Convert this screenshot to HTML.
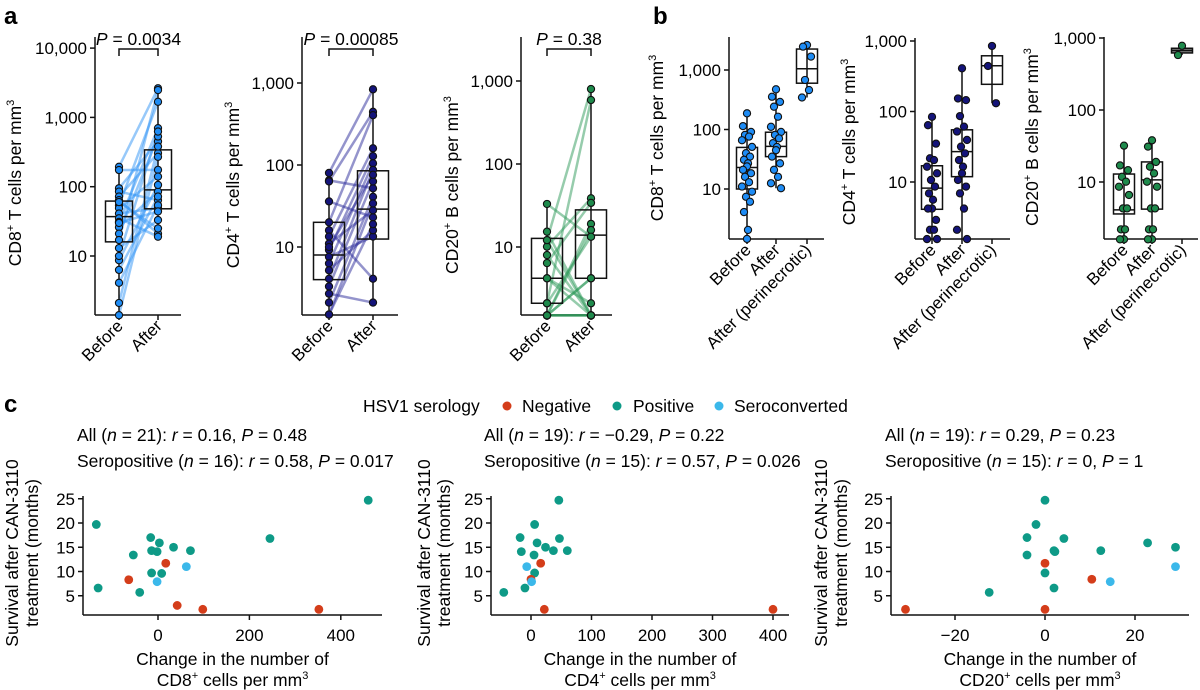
<!DOCTYPE html>
<html><head><meta charset="utf-8">
<style>
html,body{margin:0;padding:0;background:#fff;}
svg{display:block;font-family:"Liberation Sans",Arial,sans-serif;}
</style></head>
<body>
<svg id="fig" width="1200" height="690" viewBox="0 0 1200 690" xmlns="http://www.w3.org/2000/svg">
<text x="4" y="24" font-size="24" font-weight="bold">a</text>
<text x="653" y="24" font-size="24" font-weight="bold">b</text>
<text x="4" y="412" font-size="24" font-weight="bold">c</text>
<g id="legend">
<text x="363" y="412" font-size="17.5">HSV1 serology</text>
<circle cx="507" cy="406" r="4.5" fill="#d43d1a"/>
<text x="522" y="412" font-size="17.5">Negative</text>
<circle cx="617" cy="406" r="4.5" fill="#0e9a87"/>
<text x="633" y="412" font-size="17.5">Positive</text>
<circle cx="719" cy="406" r="4.5" fill="#3bb8ea"/>
<text x="734" y="412" font-size="17.5">Seroconverted</text>
</g>
</svg>
<script>
// ---------- Panel a data (paired before/after) ----------
const a1Before = [194,174,95,85,72,64,54,49,41,35,31,26,21,17,13,8.7,6.3,4.1,2.1,1.4,60,30,10];
const a1After  = [2630,175,450,64,305,21,1680,140,49,19,700,85,530,2480,33,106,72,54,380,270,25,44,625];
const a2Before = [80,65,63,36,20,16,13.4,11,9.2,7.6,6.3,5.2,4.1,3.3,2.7,2.1,1.5,1.5,10];
const a2After  = [837,52,445,23,405,4.1,160,28,128,13.4,105,16,87,63,2.1,41,34,19,76];
const a3Before = [33,15.3,12.1,10.1,8,6.4,4.2,2.1,1.5,1.5,1.5,1.5,4.2,1.5,12.1,2.1,1.5,1.5];
const a3After  = [13.3,1.5,800,38.6,1.5,34,1.5,590,19,16,1.5,4.2,2.1,1.5,1.5,13.3,1.5,4.2];
// box stats [q1, median, q3]
const a1BoxBefore = [16,37,62];
const a1BoxAfter  = [48,90,340];
const a2BoxBefore = [4,8,20];
const a2BoxAfter  = [12.5,29,85];
const a3BoxBefore = [2.1,4.2,12.7];
const a3BoxAfter  = [4.2,13.9,28];
const aPvalues = ["0.0034","0.00085","0.38"];
const aTickValues = [10,100,1000,10000];
const aTickLabels = ["10","100","1,000","10,000"];
const aCategories = ["Before","After"];

// ---------- Panel b data ----------
const b1Before = [187,114,91,81,76,66,51,40,35,31,27,24,21,18.4,16,13,11,9,7.4,6.1,4.1,2.05,1.45];
const b1After  = [474,355,291,242,164,111,91,81,71,59,51,45,35,27,21,16,12.5,10.3];
const b1Peri   = [2630,2470,1680,680,460,345];
const b2Before = [84,64,35,21.7,20.5,16.5,13.3,10.7,8.6,6.9,5.6,4.2,4.2,2.9,2.1,2.1,1.55,1.55];
const b2After  = [410,153,145,86,61,52,39.5,31.7,25.5,20.5,16.5,13.3,10.7,8.6,6.9,4.2,2.1,1.55];
const b2Peri   = [850,442,131];
const b3Before = [32,17,14.6,11.8,10.1,8.6,6.6,4.3,4.3,2.2,2.2,1.6,1.6];
const b3After  = [38,31,19,16.3,13.2,10.1,8.6,4.3,4.3,2.2,2.2,1.6,1.6];
const b3Peri   = [780,580];
const b1Boxes = [[10,23,50],[35,52,90],[600,1050,2250]];
const b2Boxes = [[4.1,8.2,17],[11.9,27,55],[243,445,617]];
const b3Boxes = [[3.6,4.1,12.9],[4.2,10.7,19],[620,670,720]];
const bCategories = ["Before","After","After (perinecrotic)"];

// ---------- Panel c data ----------
const c1X = [-135,-131,-54,-40,-16,-14,-14,-2,3,8,34,71,245,460,-64,17,42,98,352,-2,62];
const c1Y = [19.7,6.6,13.4,5.7,17.0,14.3,9.7,14.1,15.9,9.6,15.0,14.3,16.8,24.7,8.3,11.7,3.0,2.2,2.2,7.9,11.0];
const c1G = ["P","P","P","P","P","P","P","P","P","P","P","P","P","P","N","N","N","N","N","S","S"];
const c2X = [-45,-18,-16,-10,5,6,6,10,24,37,46,47,60,0,16,22,400,-7,1];
const c2Y = [5.7,17.0,14.1,6.6,13.4,19.7,9.7,15.9,15.0,14.3,24.7,16.8,14.3,8.4,11.7,2.2,2.2,11.0,7.9];
const c2G = ["P","P","P","P","P","P","P","P","P","P","P","P","P","N","N","N","N","S","S"];
const c3X = [-12.4,-4,-4,-2,0,0,2,2.2,2,4.2,12.4,22.8,29,-31,0,0,10.4,14.5,29];
const c3Y = [5.7,17.0,13.4,19.7,24.7,9.7,14.3,14.1,6.6,16.8,14.3,15.9,15.0,2.2,11.7,2.2,8.4,7.9,11.0];
const c3G = ["P","P","P","P","P","P","P","P","P","P","P","P","P","N","N","N","N","S","S"];
const cYTicks = [5,10,15,20,25];
const c1XTicks = [0,200,400];
const c2XTicks = [0,100,200,300,400];
const c3XTicks = [-20,0,20];
const c1Stats = ["All (<tspan font-style='italic'>n</tspan> = 21): <tspan font-style='italic'>r</tspan> = 0.16, <tspan font-style='italic'>P</tspan> = 0.48","Seropositive (<tspan font-style='italic'>n</tspan> = 16): <tspan font-style='italic'>r</tspan> = 0.58, <tspan font-style='italic'>P</tspan> = 0.017"];
const c2Stats = ["All (<tspan font-style='italic'>n</tspan> = 19): <tspan font-style='italic'>r</tspan> = \u22120.29, <tspan font-style='italic'>P</tspan> = 0.22","Seropositive (<tspan font-style='italic'>n</tspan> = 15): <tspan font-style='italic'>r</tspan> = 0.57, <tspan font-style='italic'>P</tspan> = 0.026"];
const c3Stats = ["All (<tspan font-style='italic'>n</tspan> = 19): <tspan font-style='italic'>r</tspan> = 0.29, <tspan font-style='italic'>P</tspan> = 0.23","Seropositive (<tspan font-style='italic'>n</tspan> = 15): <tspan font-style='italic'>r</tspan> = 0, <tspan font-style='italic'>P</tspan> = 1"];

const svg = document.getElementById('fig');
const NS = 'http://www.w3.org/2000/svg';
const FT = '17';
const FL = '17.5';
function mk(tag, attrs, parent){
  const e = document.createElementNS(NS, tag);
  for (const k in attrs) e.setAttribute(k, attrs[k]);
  (parent||svg).appendChild(e);
  return e;
}
const SUP = (s)=>"<tspan dy='-7' font-size='11'>"+s+"</tspan><tspan dy='7'>";

function yTitle(g, x, y, html){
  const t = mk('text', {transform:'translate('+x+','+y+') rotate(-90)', 'text-anchor':'middle', 'font-size':FL}, g);
  
  
  t.innerHTML = html;
  return t;
}

function logPanel(cfg){
  const g = mk('g', {});
  
  
  const Y = v => cfg.y10 - (Math.log10(v)-1)*cfg.dec;
  const ya = mk('line',{x1:cfg.ax,y1:cfg.yTop,x2:cfg.ax,y2:cfg.yBot,stroke:'#111','stroke-width':1.5},g);
  
  
  const xa = mk('line',{x1:cfg.ax,y1:cfg.yBot,x2:cfg.xEnd,y2:cfg.yBot,stroke:'#111','stroke-width':1.5},g);
  
  
  cfg.ticks.forEach((v,i)=>{
    const y = Y(v);
    if (y < cfg.yTop-2) return;
    const tl = mk('line',{x1:cfg.ax-5,y1:y,x2:cfg.ax,y2:y,stroke:'#111','stroke-width':1.5},g);
    
    
    const tt = mk('text',{x:cfg.ax-8,y:y+6,'text-anchor':'end','font-size':FT},g);
    
    
    tt.textContent = cfg.tickLabels[i];
  });
  cfg.cats.forEach((c,i)=>{
    const x = cfg.cx[i];
    const tl = mk('line',{x1:x,y1:cfg.yBot,x2:x,y2:cfg.yBot+5,stroke:'#111','stroke-width':1.5},g);
    
    
    const lx = x+5, ly = cfg.yBot+12;
    const tt = mk('text',{x:lx,y:ly,'text-anchor':'end','font-size':FT,transform:'rotate(-45 '+lx+' '+ly+')'},g);
    
    
    tt.textContent = c;
  });
  yTitle(g, cfg.lx, cfg.ly, cfg.title);
  if (cfg.paired){
    const [b,a] = cfg.series;
    for (let i=0;i<Math.min(b.length,a.length);i++){
      const l = mk('line',{x1:cfg.cx[0],y1:Y(b[i]),x2:cfg.cx[1],y2:Y(a[i]),stroke:cfg.lineColor,'stroke-width':2.5,'stroke-opacity':0.5},g);
      
      
    }
  }
  cfg.series.forEach((vals,i)=>{
    const x = cfg.cx[i], [q1,md,q3] = cfg.boxes[i];
    const lo = Math.min(...vals), hi = Math.max(...vals);
    const w = mk('line',{x1:x,y1:Y(hi),x2:x,y2:Y(lo),stroke:'#111','stroke-width':1.5},g);
    
    
    const bx = mk('rect',{x:x-cfg.bw/2,y:Y(q3),width:cfg.bw,height:Y(q1)-Y(q3),fill:(cfg.boxFill&&cfg.boxFill[i])||'none',stroke:'#111','stroke-width':1.5},g);
    
    
    const m = mk('line',{x1:x-cfg.bw/2,y1:Y(md),x2:x+cfg.bw/2,y2:Y(md),stroke:'#111','stroke-width':1.5},g);
    
    
  });
  const jit = [0,-4,4,-2,2,-5,5,-1,3,-3,1];
  cfg.series.forEach((vals,i)=>{
    vals.forEach((v,j)=>{
      const dx = cfg.jitter ? jit[j%jit.length]*cfg.jitter : 0;
      const p = mk('circle',{cx:cfg.cx[i]+dx,cy:Y(v),r:3.6,fill:cfg.color,stroke:'#111','stroke-width':1.1},g);
      
      
    });
  });
  if (cfg.p){
    const c = (cfg.cx[0]+cfg.cx[1])/2;
    const br = mk('path',{d:'M'+cfg.cx[0]+' 56 V49 H'+cfg.cx[1]+' V56',fill:'none',stroke:'#111','stroke-width':1.5},g);
    
    
    const pt = mk('text',{x:c,y:45,'text-anchor':'middle','font-size':FL},g);
    
    
    pt.innerHTML = "<tspan font-style='italic'>P</tspan> = "+cfg.p;
  }
}

const aLbl = (m,c) => "<tspan>"+m+"</tspan>"+SUP('+')+" "+c+" cells per mm"+"</tspan>"+"<tspan dy='-7' font-size='11'>3</tspan>";
logPanel({name:'panel-a-cd8',ax:95,xEnd:181,yTop:37,yBot:315,y10:256,dec:69.3,ticks:aTickValues,tickLabels:aTickLabels,cats:aCategories,cx:[119,158],bw:27,lx:21,ly:183,title:aLbl('CD8','T'),series:[a1Before,a1After],boxes:[a1BoxBefore,a1BoxAfter],paired:true,color:'#1e8cf5',lineColor:'#2f94f5',p:aPvalues[0]});
logPanel({name:'panel-a-cd4',ax:302,xEnd:398,yTop:37,yBot:315,y10:247,dec:82,ticks:aTickValues,tickLabels:aTickLabels,cats:aCategories,cx:[329,373],bw:31,lx:239,ly:185,title:aLbl('CD4','T'),series:[a2Before,a2After],boxes:[a2BoxBefore,a2BoxAfter],paired:true,color:'#14147a',lineColor:'#2a2a9a',p:aPvalues[1]});
logPanel({name:'panel-a-cd20',ax:521,xEnd:612,yTop:37,yBot:315,y10:247,dec:83,ticks:aTickValues,tickLabels:aTickLabels,cats:aCategories,cx:[547,591],bw:31,lx:458,ly:185,title:aLbl('CD20','B'),series:[a3Before,a3After],boxes:[a3BoxBefore,a3BoxAfter],paired:true,color:'#1e8a4c',lineColor:'#2e9a5a',p:aPvalues[2]});

logPanel({name:'panel-b-cd8',ax:729,xEnd:824,yTop:37,yBot:239,y10:189,dec:59.5,ticks:[10,100,1000],tickLabels:["10","100","1,000"],cats:bCategories,cx:[747,776,807],bw:21,lx:663,ly:138,title:aLbl('CD8','T'),series:[b1Before,b1After,b1Peri],boxes:b1Boxes,color:'#1e8cf5',jitter:1});
logPanel({name:'panel-b-cd4',ax:915,xEnd:1010,yTop:38,yBot:239,y10:182,dec:70.5,ticks:[10,100,1000],tickLabels:["10","100","1,000"],cats:bCategories,cx:[932,962,992],bw:21,lx:855,ly:142,title:aLbl('CD4','T'),series:[b2Before,b2After,b2Peri],boxes:b2Boxes,color:'#14147a',jitter:1});
logPanel({name:'panel-b-cd20',ax:1104,xEnd:1198,yTop:37,yBot:239,y10:182,dec:72,ticks:[10,100,1000],tickLabels:["10","100","1,000"],cats:bCategories,cx:[1124,1152,1182],bw:21,lx:1038,ly:137,title:aLbl('CD20','B'),series:[b3Before,b3After,b3Peri],boxes:b3Boxes,color:'#1e8a4c',jitter:1,boxFill:['none','none','#888']});

const gColors = {N:'#d43d1a',P:'#0e9a87',S:'#3bb8ea'};
function scatter(cfg){
  const g = mk('g', {});
  
  
  const X = v => cfg.x0 + v*cfg.kx;
  const Y = v => 620 - v*4.85;
  const ya = mk('line',{x1:cfg.ax,y1:496,x2:cfg.ax,y2:615,stroke:'#111','stroke-width':1.5},g);
  
  
  const xa = mk('line',{x1:cfg.ax,y1:615,x2:cfg.xEnd,y2:615,stroke:'#111','stroke-width':1.5},g);
  
  
  cYTicks.forEach(v=>{
    const y = Y(v);
    const tl = mk('line',{x1:cfg.ax-5,y1:y,x2:cfg.ax,y2:y,stroke:'#111','stroke-width':1.5},g);
    
    
    const tt = mk('text',{x:cfg.ax-8,y:y+6,'text-anchor':'end','font-size':FT},g);
    
    
    tt.textContent = String(v);
  });
  cfg.xticks.forEach(v=>{
    const x = X(v);
    const tl = mk('line',{x1:x,y1:615,x2:x,y2:620,stroke:'#111','stroke-width':1.5},g);
    
    
    const tt = mk('text',{x:x,y:641,'text-anchor':'middle','font-size':FT},g);
    
    
    tt.textContent = v<0 ? '\u2212'+Math.abs(v) : String(v);
  });
  const cx = (cfg.ax+cfg.xEnd)/2;
  const t1 = mk('text',{x:cx,y:665,'text-anchor':'middle','font-size':FL},g);
  
  
  t1.textContent = 'Change in the number of';
  const t2 = mk('text',{x:cx,y:686,'text-anchor':'middle','font-size':FL},g);
  
  
  t2.innerHTML = "<tspan>"+cfg.marker+"</tspan>"+SUP('+')+" cells per mm</tspan><tspan dy='-7' font-size='11'>3</tspan>";
  const y1 = mk('text',{transform:'translate('+cfg.ly1+',553) rotate(-90)','text-anchor':'middle','font-size':FL},g);
  
  
  y1.textContent = 'Survival after CAN-3110';
  const y2 = mk('text',{transform:'translate('+(cfg.ly1+20)+',553) rotate(-90)','text-anchor':'middle','font-size':FL},g);
  
  
  y2.textContent = 'treatment (months)';
  cfg.stats.forEach((s,i)=>{
    const st = mk('text',{x:cfg.sx,y:441+i*26,'font-size':FL},g);
    
    
    st.innerHTML = s;
  });
  cfg.xs.forEach((v,i)=>{
    const p = mk('circle',{cx:X(v),cy:Y(cfg.ys[i]),r:4.4,fill:gColors[cfg.gs[i]]},g);
    
    
  });
}
scatter({name:'panel-c-cd8',ax:83,xEnd:382,x0:158,kx:0.457,xticks:c1XTicks,marker:'CD8',ly1:18,sx:77,stats:c1Stats,xs:c1X,ys:c1Y,gs:c1G});
scatter({name:'panel-c-cd4',ax:491,xEnd:789,x0:531,kx:0.605,xticks:c2XTicks,marker:'CD4',ly1:430,sx:484,stats:c2Stats,xs:c2X,ys:c2Y,gs:c2G});
scatter({name:'panel-c-cd20',ax:891,xEnd:1189,x0:1045,kx:4.5,xticks:c3XTicks,marker:'CD20',ly1:827,sx:885,stats:c3Stats,xs:c3X,ys:c3Y,gs:c3G});
</script>
</body></html>
